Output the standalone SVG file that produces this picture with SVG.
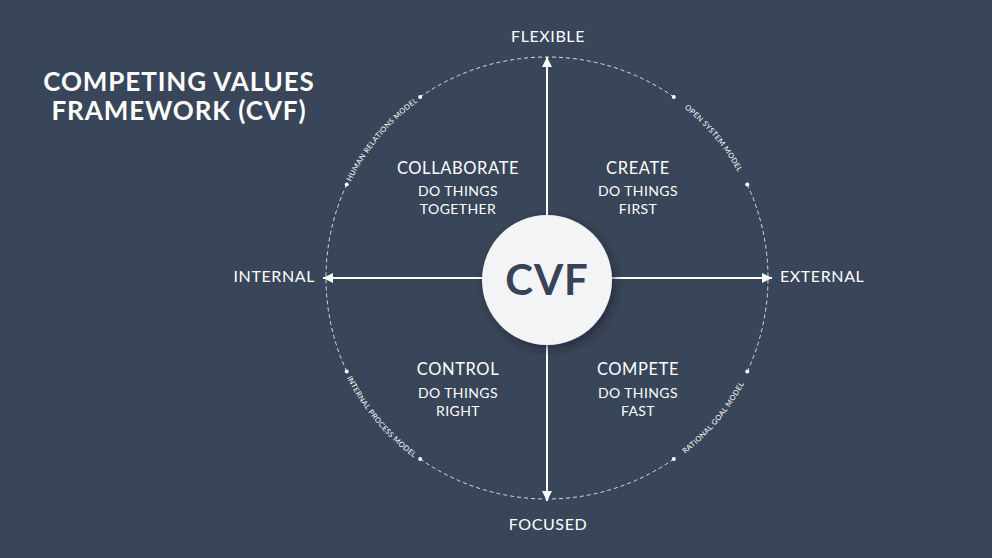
<svg xmlns="http://www.w3.org/2000/svg" width="992" height="558" viewBox="0 0 992 558">
<defs>
<style>
.t{font-family:Lato,"Open Sans","Liberation Sans",sans-serif;fill:#ffffff}
.title{font-size:26px;font-weight:700;letter-spacing:0.9px}
.axis{font-size:16px;font-weight:400;letter-spacing:0.6px}
.head{font-size:16.5px;font-weight:400;letter-spacing:0.6px}
.sub{font-size:14px;font-weight:400;letter-spacing:0.4px}
.arc{font-size:7.4px;letter-spacing:0.35px}
.ring{fill:none;stroke:#d6dbe3;stroke-width:1;stroke-dasharray:4 3}
.axisline{stroke:#ffffff;stroke-width:2;fill:none}
.dot{fill:#ffffff}
</style>
<marker id="ah" viewBox="0 0 10 10" refX="10" refY="5" markerWidth="10" markerHeight="10" markerUnits="userSpaceOnUse" orient="auto">
<path d="M0,0 L10,5 L0,10 Z" fill="#ffffff"/>
</marker>
<filter id="sh" x="-30%" y="-30%" width="160%" height="160%">
<feDropShadow dx="3" dy="4" stdDeviation="4" flood-color="#1c2330" flood-opacity="0.6"/>
</filter>
<path id="pHR" d="M349.0,185.7 A218,218 0 0 1 421.7,99.0"/>
<path id="pOS" d="M672.3,99.0 A218,218 0 0 1 745.0,185.7"/>
<path id="pIP" d="M344.4,372.5 A224,224 0 0 0 418.8,461.1"/>
<path id="pRG" d="M675.2,461.1 A224,224 0 0 0 749.6,372.5"/>
</defs>
<rect width="992" height="558" fill="#394558"/>

<g id="title">
<text class="t title" x="179" y="91" text-anchor="middle">COMPETING VALUES</text>
<text class="t title" x="179" y="120" text-anchor="middle">FRAMEWORK (CVF)</text>
</g>

<g id="ring">
<path class="ring" d="M747.3,184.6 A221,221 0 0 1 747.3,371.4"/>
<path class="ring" d="M673.8,459.0 A221,221 0 0 1 420.2,459.0"/>
<path class="ring" d="M346.7,371.4 A221,221 0 0 1 346.7,184.6"/>
<path class="ring" d="M420.2,97.0 A221,221 0 0 1 673.8,97.0"/>
<circle class="dot" cx="420.2" cy="97.0" r="2"/>
<circle class="dot" cx="346.7" cy="184.6" r="2"/>
<circle class="dot" cx="673.8" cy="97.0" r="2"/>
<circle class="dot" cx="747.3" cy="184.6" r="2"/>
<circle class="dot" cx="747.3" cy="371.4" r="2"/>
<circle class="dot" cx="673.8" cy="459.0" r="2"/>
<circle class="dot" cx="346.7" cy="371.4" r="2"/>
<circle class="dot" cx="420.2" cy="459.0" r="2"/>
</g>

<g id="model-labels">
<text class="t arc"><textPath href="#pHR" startOffset="50%" text-anchor="middle">HUMAN RELATIONS MODEL</textPath></text>
<text class="t arc"><textPath href="#pOS" startOffset="50%" text-anchor="middle">OPEN SYSTEM MODEL</textPath></text>
<text class="t arc"><textPath href="#pIP" startOffset="50%" text-anchor="middle">INTERNAL PROCESS MODEL</textPath></text>
<text class="t arc"><textPath href="#pRG" startOffset="50%" text-anchor="middle">RATIONAL GOAL MODEL</textPath></text>
</g>

<g id="connectors">
<line class="axisline" x1="547" y1="278" x2="547" y2="57" marker-end="url(#ah)"/>
<line class="axisline" x1="547" y1="278" x2="547" y2="501" marker-end="url(#ah)"/>
<line class="axisline" x1="547" y1="278" x2="323" y2="278" marker-end="url(#ah)"/>
<line class="axisline" x1="547" y1="278" x2="772" y2="278" marker-end="url(#ah)"/>
</g>

<g id="axis-labels">
<text class="t axis" x="548" y="42" text-anchor="middle">FLEXIBLE</text>
<text class="t axis" x="548" y="530" text-anchor="middle">FOCUSED</text>
<text class="t axis" x="315" y="282" text-anchor="end">INTERNAL</text>
<text class="t axis" x="780" y="282" text-anchor="start">EXTERNAL</text>
</g>

<g id="collaborate">
<text class="t head" x="458" y="174" text-anchor="middle">COLLABORATE</text>
<text class="t sub" x="458" y="196" text-anchor="middle">DO THINGS</text>
<text class="t sub" x="458" y="214" text-anchor="middle">TOGETHER</text>
</g>
<g id="create">
<text class="t head" x="638" y="174" text-anchor="middle">CREATE</text>
<text class="t sub" x="638" y="196" text-anchor="middle">DO THINGS</text>
<text class="t sub" x="638" y="214" text-anchor="middle">FIRST</text>
</g>
<g id="control">
<text class="t head" x="458" y="375" text-anchor="middle">CONTROL</text>
<text class="t sub" x="458" y="398" text-anchor="middle">DO THINGS</text>
<text class="t sub" x="458" y="416" text-anchor="middle">RIGHT</text>
</g>
<g id="compete">
<text class="t head" x="638" y="375" text-anchor="middle">COMPETE</text>
<text class="t sub" x="638" y="398" text-anchor="middle">DO THINGS</text>
<text class="t sub" x="638" y="416" text-anchor="middle">FAST</text>
</g>

<g id="cvf">
<circle cx="547" cy="280" r="65" fill="#f3f4f6" filter="url(#sh)"/>
<text x="547" y="295" text-anchor="middle" font-family="Lato,'Open Sans','Liberation Sans',sans-serif" font-size="42" font-weight="700" fill="#374358" letter-spacing="1">CVF</text>
</g>
</svg>
